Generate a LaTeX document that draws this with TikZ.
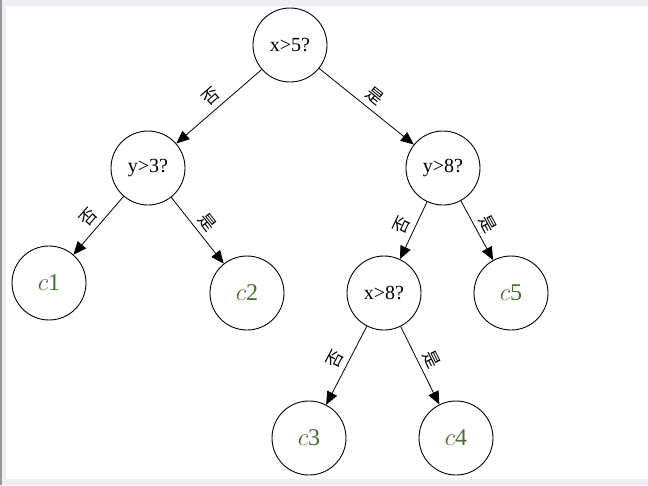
\documentclass[tikz,border=0pt]{standalone}
\usepackage{fontspec}
\setmainfont{Liberation Serif}
\newfontfamily\cjk{Noto Sans CJK SC}
\usetikzlibrary{arrows.meta}
\definecolor{cgreen}{RGB}{72,112,48}
\definecolor{framegray}{RGB}{238,239,243}
\tikzset{
  tnode/.style={circle,draw,line width=0.9pt,minimum size=74pt,inner sep=0pt,font=\fontsize{20}{24}\selectfont},
  leaf/.style={tnode,text=cgreen,font=\fontsize{24}{28}\selectfont},
  edge/.style={line width=0.8pt,-{Triangle[length=13pt,width=11pt]}},
  lab/.style={font=\cjk\fontsize{17}{19}\selectfont,sloped,above,inner sep=5pt}
}
\begin{document}
\begin{tikzpicture}[x=1pt,y=-1pt]
\useasboundingbox (0,0) rectangle (648,485);
\fill[framegray] (0,0) rectangle (648,485);
\fill[white] (6,6) rectangle (648,479);
\fill[gray!80] (0,0) rectangle (1.5,485);
\node[tnode] (r) at (290,45) {x>5?};
\node[tnode] (a) at (148,168) {y>3?};
\node[tnode] (b) at (443,168) {y>8?};
\node[leaf] (c1) at (49,283) {$c$1};
\node[leaf] (c2) at (247,293) {$c$2};
\node[tnode] (d) at (384,293) {x>8?};
\node[leaf] (c5) at (511,293) {$c$5};
\node[leaf] (c3) at (309,438) {$c$3};
\node[leaf] (c4) at (456,438) {$c$4};
\draw[edge] (r) -- node[lab] {否} (a);
\draw[edge] (r) -- node[lab] {是} (b);
\draw[edge] (a) -- node[lab] {否} (c1);
\draw[edge] (a) -- node[lab] {是} (c2);
\draw[edge] (b) -- node[lab] {否} (d);
\draw[edge] (b) -- node[lab] {是} (c5);
\draw[edge] (d) -- node[lab] {否} (c3);
\draw[edge] (d) -- node[lab] {是} (c4);
\end{tikzpicture}
\end{document}
